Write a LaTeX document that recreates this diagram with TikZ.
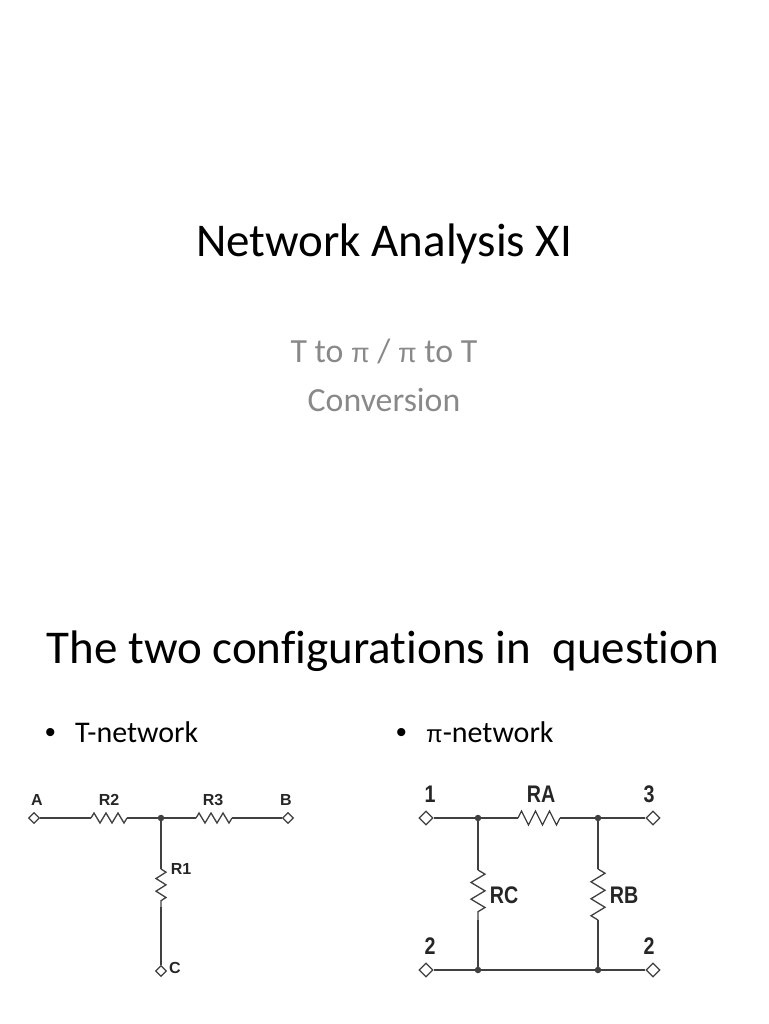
\documentclass[tikz,border=0pt]{standalone}
\usepackage{fontspec}
\setmainfont{Carlito}[Ligatures=NoCommon]
\newfontfamily\labelfont{Liberation Sans}
\newfontfamily\pifont{Liberation Sans}[Scale=0.8]
\newcommand{\pisym}{{\pifont π}}
\usetikzlibrary{shapes.geometric,decorations.pathmorphing}
\definecolor{subgray}{HTML}{898989}
\definecolor{wiregray}{HTML}{404040}
\tikzset{
	wire/.style={draw=wiregray, line width=1.3pt},
	res/.style={wire, decorate, decoration={zigzag, segment length=#1, amplitude=5pt}},
	res/.default=12pt,
	bigres/.style={wire, decorate, decoration={zigzag, segment length=#1, amplitude=7pt}},
	term/.style={diamond, draw=wiregray, line width=1.2pt, fill=white, inner sep=0pt, minimum size=#1},
	term/.default=11pt,
	dot/.style={circle, fill=wiregray, inner sep=0pt, minimum size=6.5pt},
	lab/.style={font=\labelfont\bfseries\fontsize{16}{16}\selectfont, text=black!85, inner sep=0pt},
	biglab/.style={font=\labelfont\bfseries\fontsize{24}{24}\selectfont, text=black!85, inner sep=0pt, xscale=.82},
	title/.style={font=\fontsize{47}{47}\selectfont, inner sep=0pt, anchor=base},
	sub/.style={font=\fontsize{33.8}{34}\selectfont, text=subgray, inner sep=0pt, anchor=base},
	item/.style={font=\fontsize{30}{30}\selectfont, inner sep=0pt, anchor=base west},
	bull/.style={font=\labelfont\fontsize{30}{30}\selectfont, inner sep=0pt, anchor=base west}
}
\begin{document}
\begin{tikzpicture}[x=1pt,y=-1pt]
	\useasboundingbox (0,0) rectangle (768,1024);
	% slide texts
	\node[title] (head) at (384,256) {Network Analysis XI};
	\node[sub] (subone) at (384,362) {T to \pisym{} / \pisym{} to T};
	\node[sub] (subtwo) at (384,411) {Conversion};
	\node[title] (headtwo) at (383,663) {The two configurations in\ \ question};
	\node[bull] (dotT) at (45,742) {•};
	\node[item] (textT) at (75,742) {T-network};
	\node[bull] (dotP) at (396,742) {•};
	\node[item] (textP) at (426,742) {\pisym-network};
	% T network
	\node[term] (A) at (34,818) {};
	\node[term] (B) at (288,818) {};
	\node[term] (C) at (161,971) {};
	\node[dot] (J) at (161,818) {};
	\coordinate (r2a) at (91,818);
	\coordinate (r2b) at (127,818);
	\coordinate (r3a) at (196,818);
	\coordinate (r3b) at (232,818);
	\coordinate (r1a) at (161,869);
	\coordinate (r1b) at (161,907);
	\draw[wire] (A)--(r2a);
	\draw[res] (r2a)--(r2b);
	\draw[wire] (r2b)--(J)--(r3a);
	\draw[res] (r3a)--(r3b);
	\draw[wire] (r3b)--(B);
	\draw[wire] (J)--(r1a);
	\draw[res={12.67pt}] (r1a)--(r1b);
	\draw[wire] (r1b)--(C);
	\node[lab] (labA) at (37,800) {A};
	\node[lab] (labR2) at (109,800) {R2};
	\node[lab] (labR3) at (213,800) {R3};
	\node[lab] (labB) at (286,800) {B};
	\node[lab] (labR1) at (181,869) {R1};
	\node[lab] (labC) at (175,968) {C};
	% pi network
	\node[term={14pt}] (one) at (426,818) {};
	\node[term={14pt}] (three) at (653,818) {};
	\node[term={14pt}] (twoL) at (426,970) {};
	\node[term={14pt}] (twoR) at (653,970) {};
	\node[dot] (JL) at (478,818) {};
	\node[dot] (JR) at (598,818) {};
	\node[dot] (KL) at (478,970) {};
	\node[dot] (KR) at (598,970) {};
	\coordinate (raa) at (518,818);
	\coordinate (rab) at (560,818);
	\coordinate (rca) at (478,870);
	\coordinate (rcb) at (478,920);
	\coordinate (rba) at (598,869);
	\coordinate (rbb) at (598,920);
	\draw[wire] (one)--(JL)--(raa);
	\draw[bigres={14pt}] (raa)--(rab);
	\draw[wire] (rab)--(JR)--(three);
	\draw[wire] (JL)--(rca);
	\draw[bigres={16.67pt}] (rca)--(rcb);
	\draw[wire] (rcb)--(KL);
	\draw[wire] (JR)--(rba);
	\draw[bigres={17pt}] (rba)--(rbb);
	\draw[wire] (rbb)--(KR);
	\draw[wire] (twoL)--(KL)--(KR)--(twoR);
	\node[biglab] (labone) at (430,794) {1};
	\node[biglab] (labRA) at (541,794) {RA};
	\node[biglab] (labthree) at (649,794) {3};
	\node[biglab] (labRC) at (504,895) {RC};
	\node[biglab] (labRB) at (624,895) {RB};
	\node[biglab] (labtwoL) at (430,946) {2};
	\node[biglab] (labtwoR) at (649,946) {2};
\end{tikzpicture}
\end{document}
